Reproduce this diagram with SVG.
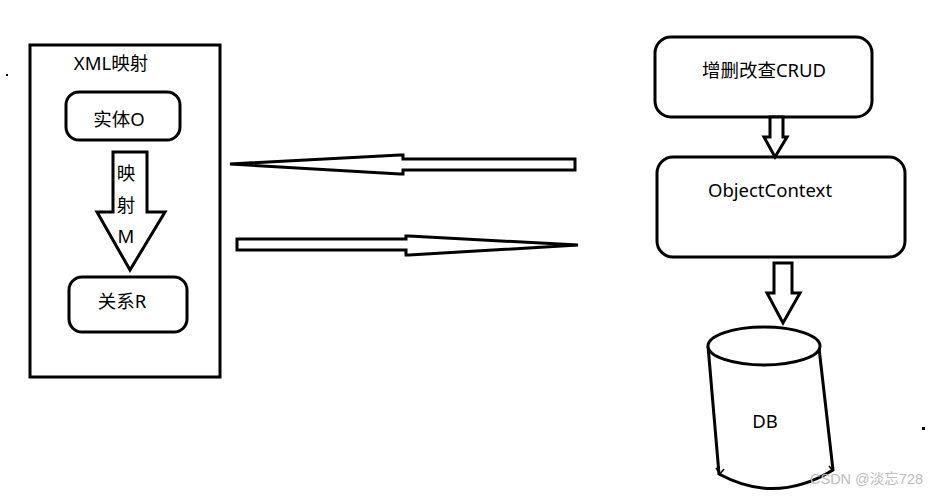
<svg xmlns="http://www.w3.org/2000/svg" width="938" height="497" viewBox="0 0 938 497">
<style>
.box{fill:#fff;stroke:#000;stroke-width:3}
.arr{fill:#fff;stroke:#000;stroke-width:3;stroke-linejoin:miter}
.t{font-family:"Noto Sans","Noto Sans CJK SC",sans-serif;font-size:18.5px;fill:#000}
.wm{font-family:"Liberation Sans","Noto Sans CJK SC",sans-serif;font-size:14.5px;fill:#bdbdbd}
</style>
<rect width="938" height="497" fill="#fff"/>
<g id="xml-mapping">
<rect class="box" x="30" y="45" width="190" height="332"/>
<text class="t" x="111" y="70" text-anchor="middle">XML映射</text>
</g>
<g id="entity">
<rect class="box" x="66" y="92" width="114" height="48" rx="13"/>
<text class="t" x="119" y="126" text-anchor="middle">实体O</text>
</g>
<g id="relation">
<rect class="box" x="69" y="277" width="118" height="55" rx="13"/>
<text class="t" x="122" y="308" text-anchor="middle">关系R</text>
</g>
<g id="crud">
<rect class="box" x="655" y="37" width="217" height="80" rx="16"/>
<text class="t" x="764" y="77" text-anchor="middle">增删改查CRUD</text>
</g>
<g id="objectcontext">
<rect class="box" x="657" y="157" width="248" height="100" rx="16"/>
<text class="t" x="770" y="197" text-anchor="middle">ObjectContext</text>
</g>
<g id="db">
<path class="box" d="M708,346 L719,474 Q776,505 833,470 L819,348"/>
<ellipse class="box" cx="764" cy="346" rx="56" ry="19"/>
<path d="M716,468 L720,474 L724,469 M829,466 L833,471" fill="none" stroke="#000" stroke-width="1.5"/>
<text class="t" x="765" y="428" text-anchor="middle">DB</text>
</g>
<g id="connectors">
<polygon class="arr" points="113,152 147,152 147,212 165,212 130,270 97,212 113,212"/>
<text class="t" x="126" y="180" text-anchor="middle">映</text>
<text class="t" x="126" y="212" text-anchor="middle">射</text>
<text class="t" x="126" y="243" text-anchor="middle">M</text>
<polygon class="arr" points="230,164 400,155 403,155 403,159 575,159 575,170 403,170 403,174 400,174"/>
<polygon class="arr" points="578,245 409,236 406,236 406,239 237,239 237,250 406,250 406,255 409,255"/>
<polygon class="arr" points="770,117 783,117 783,137 787,137 775,157 764,137 770,137"/>
<polygon class="arr" points="774,263 792,263 792,293 800,293 783,323 767,293 774,293"/>
</g>
<rect x="6" y="74" width="2" height="2" fill="#000"/>
<rect x="922" y="427" width="3" height="3" fill="#000"/>
<text class="wm" x="810" y="484">CSDN @淡忘728</text>
</svg>
